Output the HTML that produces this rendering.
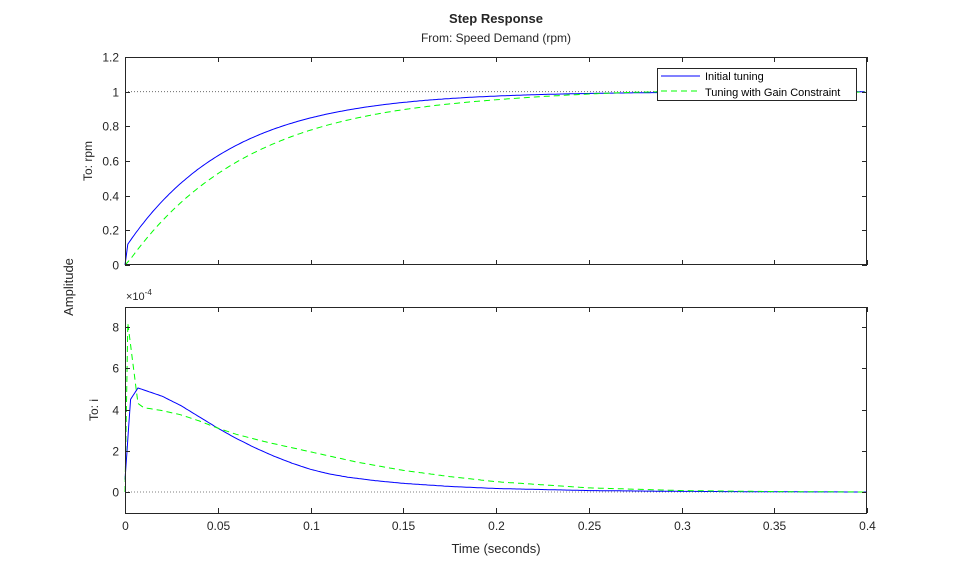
<!DOCTYPE html><html><head><style>body{margin:0;background:#fff}svg{display:block;font-family:"Liberation Sans",sans-serif}</style></head><body>
<svg id="s" width="959" height="577" xmlns="http://www.w3.org/2000/svg">
<rect width="959" height="577" fill="#fff"/>
<text x="496" y="23" font-size="13" font-weight="bold" text-anchor="middle" fill="#262626">Step Response</text>
<text x="496" y="42" font-size="12" text-anchor="middle" fill="#262626">From: Speed Demand (rpm)</text>
<text x="496" y="553" font-size="13" text-anchor="middle" fill="#262626">Time (seconds)</text>
<text transform="translate(73,287) rotate(-90)" font-size="13" text-anchor="middle" fill="#262626">Amplitude</text>
<text transform="translate(92,161) rotate(-90)" font-size="12" text-anchor="middle" fill="#262626">To: rpm</text>
<text transform="translate(98,410) rotate(-90)" font-size="12" text-anchor="middle" fill="#262626">To: i</text>
<text x="126" y="300" font-size="11" fill="#262626">×10<tspan dy="-5" font-size="8">-4</tspan></text>
<g id="g"></g>
</svg>
<script>
var g=document.getElementById('g'),h='';
var X0=125,X1=867;function X(t){return X0+t/0.4*(X1-X0);}
function Yt(v){return 265-v/1.2*208;}
function Yb(v){return 492-v*20.6;}
function interp(pts,t){for(var i=1;i<pts.length;i++){if(t<=pts[i][0]){var a=pts[i-1],b=pts[i];return a[1]+(b[1]-a[1])*(t-a[0])/(b[0]-a[0]);}}return pts[pts.length-1][1];}
function smooth(pts,Y){var d='';var ts=[];pts.forEach(function(p){ts.push(p[0]);});for(var t=0;t<=0.4;t+=0.001)ts.push(t);ts.sort(function(a,b){return a-b});ts.forEach(function(t,i){d+=(i?'L':'M')+X(t).toFixed(1)+','+Y(interp(pts,t)).toFixed(1);});return d;}
h+='<line x1="125" y1="'+Yt(1)+'" x2="867" y2="'+Yt(1)+'" stroke="#555" stroke-dasharray="1,2" stroke-width="0.8"/>';
h+='<line x1="125" y1="492" x2="867" y2="492" stroke="#555" stroke-dasharray="1,2" stroke-width="0.8"/>';
var tb=[[0,0],[0.0015,0.12]],tg=[[0,0],[0.003,0.035]];
for(var t=0.003;t<=0.4001;t+=0.003){tb.push([t,1-0.88*Math.exp(-(t-0.0015)/0.056)]);tg.push([t,1-0.965*Math.exp(-(t-0.003)/0.066)+0.012*Math.exp(-Math.pow((t-0.28)/0.06,2))]);}
var bb=[[0,0.6],[0.003,4.5],[0.007,5.05],[0.02,4.65],[0.03,4.2],[0.04,3.65],[0.05,3.1],[0.06,2.6],[0.07,2.15],[0.08,1.75],[0.09,1.4],[0.1,1.1],[0.11,0.88],[0.12,0.72],[0.135,0.55],[0.15,0.42],[0.175,0.27],[0.2,0.17],[0.25,0.07],[0.3,0.03],[0.35,0.01],[0.4,0]];
var bg=[[0,0],[0.0015,8.2],[0.007,4.3],[0.01,4.1],[0.02,3.95],[0.03,3.75],[0.04,3.45],[0.05,3.1],[0.06,2.8],[0.075,2.45],[0.1,1.95],[0.125,1.45],[0.15,1.05],[0.175,0.75],[0.2,0.5],[0.25,0.2],[0.3,0.07],[0.35,0.02],[0.4,0]];
h+='<path d="'+smooth(tb,Yt)+'" fill="none" stroke="#0000ff" stroke-width="1"/>';
h+='<path d="'+smooth(tg,Yt)+'" fill="none" stroke="#00ff00" stroke-width="1" stroke-dasharray="6,4"/>';
h+='<path d="'+smooth(bb,Yb)+'" fill="none" stroke="#0000ff" stroke-width="1"/>';
h+='<path d="'+smooth(bg,Yb)+'" fill="none" stroke="#00ff00" stroke-width="1" stroke-dasharray="6,4"/>';
h+='<rect x="125.5" y="57.5" width="741" height="207" fill="none" stroke="#262626" stroke-width="1"/>';
h+='<rect x="125.5" y="307.5" width="741" height="206" fill="none" stroke="#262626" stroke-width="1"/>';
for(var i=0;i<=8;i++){var x=Math.round(X(i*0.05))+0.5;
h+='<line x1="'+x+'" y1="57" x2="'+x+'" y2="62" stroke="#262626"/><line x1="'+x+'" y1="265" x2="'+x+'" y2="260" stroke="#262626"/>';
h+='<line x1="'+x+'" y1="307" x2="'+x+'" y2="312" stroke="#262626"/><line x1="'+x+'" y1="513" x2="'+x+'" y2="508" stroke="#262626"/>';
var lab=i==0?'0':(i*0.05).toFixed(2).replace(/0$/,'');h+='<text x="'+x+'" y="530" font-size="12" text-anchor="middle" fill="#262626">'+lab+'</text>';}
for(var i=0;i<=6;i++){var v=i*0.2,y=Math.round(Yt(v))+0.5;h+='<line x1="125" y1="'+y+'" x2="130" y2="'+y+'" stroke="#262626"/><line x1="867" y1="'+y+'" x2="862" y2="'+y+'" stroke="#262626"/>';
h+='<text x="119" y="'+(y+4)+'" font-size="12" text-anchor="end" fill="#262626">'+(i==0?'0':(i==5?'1':v.toFixed(1)))+'</text>';}
for(var v=0;v<=8;v+=2){var y=Math.round(Yb(v))+0.5;h+='<line x1="125" y1="'+y+'" x2="130" y2="'+y+'" stroke="#262626"/><line x1="867" y1="'+y+'" x2="862" y2="'+y+'" stroke="#262626"/>';
h+='<text x="119" y="'+(y+4)+'" font-size="12" text-anchor="end" fill="#262626">'+v+'</text>';}
h+='<rect x="657.5" y="68.5" width="199" height="32" fill="#fff" stroke="#262626"/>';
h+='<line x1="661" y1="76" x2="700" y2="76" stroke="#0000ff"/><text x="705" y="80" font-size="11" fill="#000">Initial tuning</text>';
h+='<line x1="661" y1="91" x2="700" y2="91" stroke="#00ff00" stroke-dasharray="6,4"/><text x="705" y="96" font-size="11" fill="#000">Tuning with Gain Constraint</text>';
g.innerHTML=h;
</script></body></html>
